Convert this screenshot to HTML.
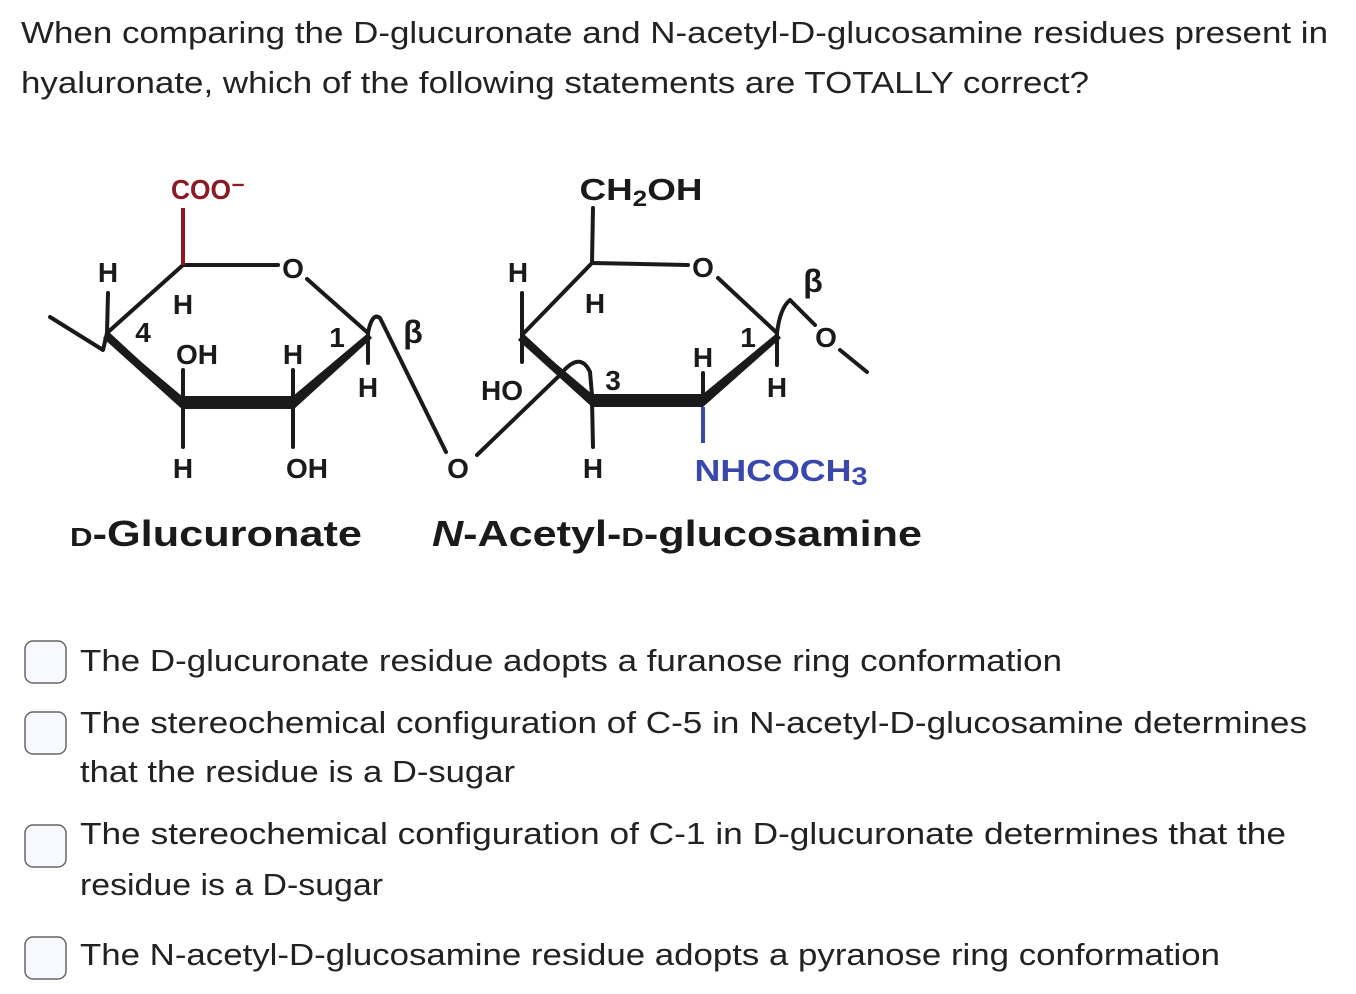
<!DOCTYPE html>
<html><head><meta charset="utf-8"><style>
html,body{margin:0;padding:0;background:#fff;}
svg{display:block;}
.q{font-family:"Liberation Sans",sans-serif;font-size:31px;fill:#222;}
.c{font-family:"Liberation Sans",sans-serif;font-size:28px;font-weight:bold;fill:#1a1a1a;text-anchor:middle;}
.l{font-family:"Liberation Sans",sans-serif;font-size:36px;font-weight:bold;fill:#1a1a1a;}
</style></head><body>
<svg width="1356" height="994" viewBox="0 0 1356 994" xmlns="http://www.w3.org/2000/svg">
<text class="q" x="21" y="43" textLength="1307" lengthAdjust="spacingAndGlyphs">When comparing the D-glucuronate and N-acetyl-D-glucosamine residues present in</text>
<text class="q" x="21" y="93" textLength="1068" lengthAdjust="spacingAndGlyphs">hyaluronate, which of the following statements are TOTALLY correct?</text>

<g stroke="#1a1a1a" stroke-width="4" fill="none" stroke-linecap="round" stroke-linejoin="round">
<line x1="183" y1="265" x2="278" y2="265"/>
<line x1="307" y1="279" x2="368" y2="333"/>
<line x1="183" y1="265" x2="107" y2="333"/>
<line x1="107" y1="333" x2="183" y2="403"/>
<polyline points="50,317 103,350 107,333"/>
<line x1="108" y1="293" x2="107" y2="333"/>
<line x1="183" y1="370" x2="183" y2="447"/>
<line x1="293" y1="370" x2="293" y2="447"/>
<line x1="368" y1="333" x2="368" y2="363"/>
<path d="M368,333 Q372,312 380,318 L446,452"/>
<line x1="592" y1="263" x2="688" y2="265"/>
<line x1="718" y1="278" x2="777" y2="333"/>
<line x1="592" y1="263" x2="522" y2="335"/>
<line x1="522" y1="335" x2="592" y2="400"/>
<line x1="522" y1="293" x2="522" y2="362"/>
<line x1="593" y1="208" x2="592" y2="263"/>
<line x1="592" y1="400" x2="593" y2="447"/>
<line x1="703" y1="373" x2="703" y2="400"/>
<line x1="777" y1="333" x2="777" y2="365"/>
<path d="M477,455 L560,375 Q580,350 590,372 L592,395"/>
<path d="M777,333 Q780,308 790,300 L815,325"/>
<line x1="840" y1="350" x2="867" y2="372"/>
</g>
<polygon points="107,333 183,397 183,410 103,338" fill="#1a1a1a"/>
<rect x="183" y="396" width="110" height="13" fill="#1a1a1a"/>
<polygon points="293,396 368,333 372,338 293,410" fill="#1a1a1a"/>
<polygon points="522,335 592,394 592,407 518,340" fill="#1a1a1a"/>
<rect x="592" y="394" width="111" height="13" fill="#1a1a1a"/>
<polygon points="703,394 777,333 781,338 703,407" fill="#1a1a1a"/>
<line x1="183" y1="208" x2="183" y2="265" stroke="#8b1a24" stroke-width="4"/>
<line x1="703" y1="407" x2="703" y2="443" stroke="#3949ab" stroke-width="4"/>

<text class="c" x="208" y="199" style="fill:#8b1a24" textLength="74" lengthAdjust="spacingAndGlyphs">COO⁻</text>
<text class="c" x="293" y="278">O</text>
<text class="c" x="108" y="282">H</text>
<text class="c" x="183" y="314">H</text>
<text class="c" x="143" y="342">4</text>
<text class="c" x="197" y="364">OH</text>
<text class="c" x="293" y="364">H</text>
<text class="c" x="337" y="347">1</text>
<text class="c" x="368" y="397">H</text>
<text class="c" x="413" y="343" style="font-size:32px">β</text>
<text class="c" x="183" y="478">H</text>
<text class="c" x="307" y="478">OH</text>
<text class="c" x="458" y="478">O</text>

<text class="c" x="641" y="200" style="font-size:31px" textLength="123" lengthAdjust="spacingAndGlyphs">CH<tspan font-size="22" dy="6">2</tspan><tspan dy="-6">OH</tspan></text>
<text class="c" x="703" y="277">O</text>
<text class="c" x="518" y="282">H</text>
<text class="c" x="595" y="313">H</text>
<text class="c" x="502" y="400">HO</text>
<text class="c" x="613" y="390">3</text>
<text class="c" x="703" y="367">H</text>
<text class="c" x="748" y="347">1</text>
<text class="c" x="777" y="397">H</text>
<text class="c" x="813" y="292" style="font-size:32px">β</text>
<text class="c" x="826" y="347">O</text>
<text class="c" x="593" y="478">H</text>
<text class="c" x="781" y="481" style="fill:#3949ab;font-size:31px" textLength="173" lengthAdjust="spacingAndGlyphs">NHCOCH<tspan font-size="25" dy="4">3</tspan></text>

<text class="l" x="70" y="546" textLength="292" lengthAdjust="spacingAndGlyphs"><tspan font-size="26">D</tspan>-Glucuronate</text>
<text class="l" x="432" y="546" textLength="490" lengthAdjust="spacingAndGlyphs"><tspan font-style="italic">N</tspan>-Acetyl-<tspan font-size="26">D</tspan>-glucosamine</text>

<g fill="#f8f8ff" stroke="#666" stroke-width="1.5">
<rect x="25" y="641" width="41" height="42" rx="8"/>
<rect x="25" y="712" width="41" height="42" rx="8"/>
<rect x="25" y="825" width="41" height="42" rx="8"/>
<rect x="25" y="937" width="41" height="42" rx="8"/>
</g>
<text class="q" x="80" y="671" textLength="982" lengthAdjust="spacingAndGlyphs">The D-glucuronate residue adopts a furanose ring conformation</text>
<text class="q" x="80" y="733" textLength="1227" lengthAdjust="spacingAndGlyphs">The stereochemical configuration of C-5 in N-acetyl-D-glucosamine determines</text>
<text class="q" x="80" y="782" textLength="435" lengthAdjust="spacingAndGlyphs">that the residue is a D-sugar</text>
<text class="q" x="80" y="844" textLength="1206" lengthAdjust="spacingAndGlyphs">The stereochemical configuration of C-1 in D-glucuronate determines that the</text>
<text class="q" x="80" y="895" textLength="303" lengthAdjust="spacingAndGlyphs">residue is a D-sugar</text>
<text class="q" x="80" y="965" textLength="1140" lengthAdjust="spacingAndGlyphs">The N-acetyl-D-glucosamine residue adopts a pyranose ring conformation</text>
</svg>
</body></html>
